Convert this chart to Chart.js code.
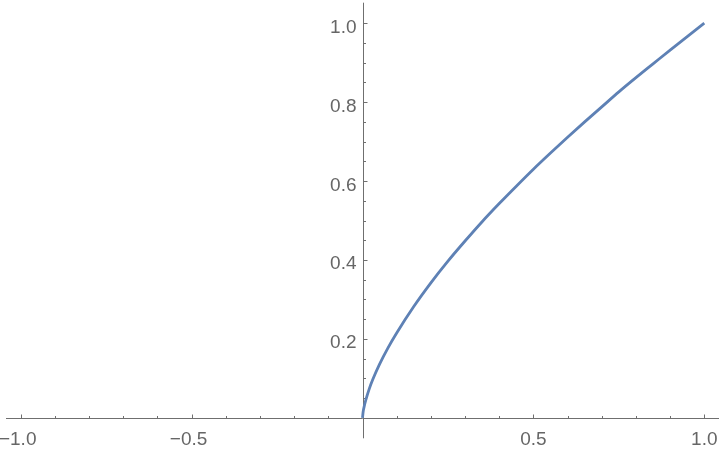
<!DOCTYPE html>
<html>
<head>
<meta charset="utf-8">
<script src="https://cdn.jsdelivr.net/npm/chart.js@4"></script>
<style>
  html, body { margin: 0; padding: 0; background: #ffffff; }
  #wrap { width: 720px; height: 450px; }
</style>
</head>
<body>
<div id="wrap"><canvas id="c" width="720" height="450"></canvas></div>
<script>
// Curve values
const xValues = [0, 0.002, 0.005, 0.01, 0.02, 0.03, 0.05, 0.075, 0.1, 0.15, 0.2, 0.25, 0.3, 0.35, 0.4, 0.45, 0.5, 0.55, 0.6, 0.65, 0.7, 0.75, 0.8, 0.85, 0.9, 0.95, 1.0];
const yValues = [0, 0.016, 0.029, 0.046, 0.074, 0.097, 0.136, 0.178, 0.215, 0.282, 0.342, 0.397, 0.448, 0.497, 0.543, 0.587, 0.630, 0.671, 0.711, 0.750, 0.788, 0.826, 0.862, 0.897, 0.932, 0.966, 1.0];

// Axis ticks
const xTickValues = [-1.0, -0.5, 0.5, 1.0];
const xTickLabels = ['\u22121.0', '\u22120.5', '0.5', '1.0'];
const xMinorTicks = [-0.9, -0.8, -0.7, -0.6, -0.4, -0.3, -0.2, -0.1, 0.1, 0.2, 0.3, 0.4, 0.6, 0.7, 0.8, 0.9];
const yTickValues = [0.2, 0.4, 0.6, 0.8, 1.0];
const yTickLabels = ['0.2', '0.4', '0.6', '0.8', '1.0'];
const yMinorTicks = [0.05, 0.1, 0.15, 0.25, 0.3, 0.35, 0.45, 0.5, 0.55, 0.65, 0.7, 0.75, 0.85, 0.9, 0.95];

const points = xValues.map((x, i) => ({ x: x, y: yValues[i] }));

const axisColor = '#6f6f6f';
const labelColor = '#666666';

const axesPlugin = {
  id: 'mmaAxes',
  beforeDatasetsDraw(chart) {
    const ctx = chart.ctx;
    const xs = chart.scales.x, ys = chart.scales.y;
    const area = chart.chartArea;
    const x0 = Math.round(xs.getPixelForValue(0)) + 0.5;
    const y0 = Math.round(ys.getPixelForValue(0)) + 0.5;
    ctx.save();
    ctx.strokeStyle = axisColor;
    ctx.lineWidth = 1;
    ctx.beginPath();
    // x axis
    ctx.moveTo(area.left, y0);
    ctx.lineTo(area.right, y0);
    // y axis
    ctx.moveTo(x0, area.top);
    ctx.lineTo(x0, area.bottom);
    // x ticks (pointing up into the plot)
    xTickValues.forEach(v => {
      const p = Math.round(xs.getPixelForValue(v)) + 0.5;
      ctx.moveTo(p, y0); ctx.lineTo(p, y0 - 4);
    });
    xMinorTicks.forEach(v => {
      const p = Math.round(xs.getPixelForValue(v)) + 0.5;
      ctx.moveTo(p, y0); ctx.lineTo(p, y0 - 2.5);
    });
    // y ticks (pointing right into the plot)
    yTickValues.forEach(v => {
      const p = Math.round(ys.getPixelForValue(v)) + 0.5;
      ctx.moveTo(x0, p); ctx.lineTo(x0 + 4, p);
    });
    yMinorTicks.forEach(v => {
      const p = Math.round(ys.getPixelForValue(v)) + 0.5;
      ctx.moveTo(x0, p); ctx.lineTo(x0 + 2.5, p);
    });
    ctx.stroke();

    // labels
    ctx.fillStyle = labelColor;
    ctx.font = '19px "Liberation Sans", Arial, sans-serif';
    ctx.textBaseline = 'alphabetic';
    ctx.textAlign = 'center';
    xTickValues.forEach((v, i) => {
      const p = xs.getPixelForValue(v);
      const lbl = xTickLabels[i];
      // keep the minus sign to the left so the digits stay centred like the reference
      ctx.fillText(lbl, p - (lbl.startsWith('\u2212') ? 3 : 0), y0 + 26);
    });
    ctx.textAlign = 'right';
    yTickValues.forEach((v, i) => {
      const p = ys.getPixelForValue(v);
      ctx.fillText(yTickLabels[i], x0 - 7, p + 9.5);
    });
    ctx.restore();
  }
};

new Chart(document.getElementById('c'), {
  type: 'line',
  data: {
    datasets: [{
      data: points,
      borderColor: '#5E81B5',
      borderWidth: 2.8,
      pointRadius: 0,
      fill: false,
      cubicInterpolationMode: 'monotone',
      clip: false
    }]
  },
  options: {
    responsive: false,
    animation: false,
    devicePixelRatio: 1,
    layout: { padding: { left: 6, right: 1, top: 2.7, bottom: 11.7 } },
    plugins: { legend: { display: false }, tooltip: { enabled: false }, title: { display: false } },
    scales: {
      x: { type: 'linear', display: false, min: -1.043, max: 1.043 },
      y: { type: 'linear', display: false, min: -0.052, max: 1.052 }
    }
  },
  plugins: [axesPlugin]
});
</script>
</body>
</html>
